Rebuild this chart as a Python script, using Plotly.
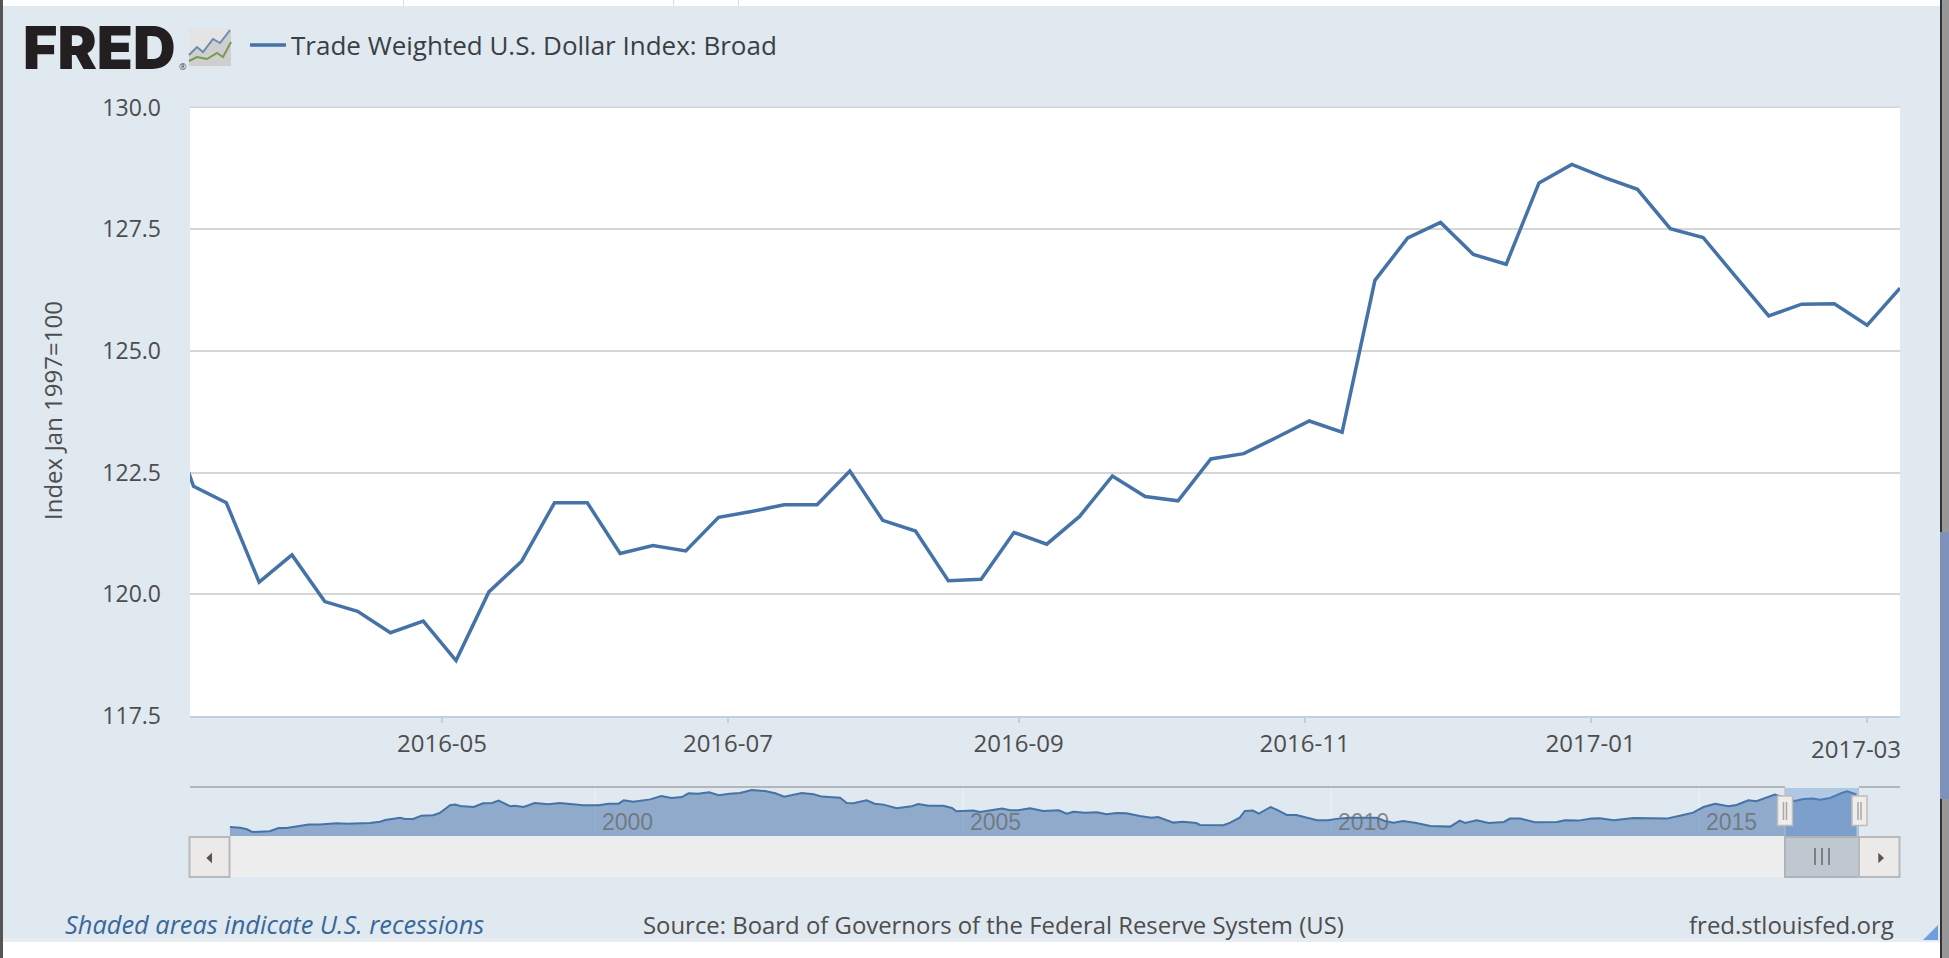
import pandas as pd
import plotly.graph_objects as go

W, H = 1949, 958

# Weekly index readings, one value per Wednesday from 2016-03-02
first_week = "2016-03-02"
index_values = [
    124.10, 122.22, 121.88, 120.25, 120.81, 119.85, 119.65, 119.21, 119.45, 118.64,
    120.05, 120.68, 121.88, 121.88, 120.84, 121.00, 120.89, 121.58, 121.70, 121.84,
    121.84, 122.53, 121.52, 121.30, 120.28, 120.31, 121.27, 121.03, 121.60, 122.43,
    122.01, 121.92, 122.78, 122.89, 123.22, 123.56, 123.33, 126.45, 127.32, 127.64,
    126.98, 126.78, 128.45, 128.83, 128.56, 128.32, 127.51, 127.33, 126.52, 125.72,
    125.96, 125.97, 125.53, 126.29,
]
x_tick_dates = ["2016-05-01", "2016-07-01", "2016-09-01", "2016-11-01", "2017-01-01", "2017-03-01"]
x_tick_labels = ["2016-05", "2016-07", "2016-09", "2016-11", "2017-01", "2017-03"]
y_ticks = [117.5, 120.0, 122.5, 125.0, 127.5, 130.0]

# Full history shown in the range navigator
history_years = [
    1995.04, 1995.18, 1995.27, 1995.34, 1995.58, 1995.70, 1995.81, 1995.95, 1996.11, 1996.26,
    1996.49, 1996.63, 1996.81, 1996.94, 1997.08, 1997.15, 1997.35, 1997.42, 1997.53, 1997.64,
    1997.80, 1997.89, 1998.03, 1998.10, 1998.17, 1998.35, 1998.48, 1998.60, 1998.69, 1998.75,
    1998.85, 1998.91, 1999.03, 1999.18, 1999.37, 1999.52, 1999.71, 1999.84, 2000.05, 2000.18,
    2000.32, 2000.39, 2000.52, 2000.75, 2000.90, 2001.04, 2001.18, 2001.27, 2001.40, 2001.55,
    2001.68, 2001.83, 2001.97, 2002.13, 2002.31, 2002.45, 2002.57, 2002.67, 2002.81, 2002.97,
    2003.08, 2003.33, 2003.42, 2003.51, 2003.69, 2003.80, 2003.92, 2004.10, 2004.30, 2004.39,
    2004.53, 2004.73, 2004.85, 2004.91, 2005.14, 2005.23, 2005.37, 2005.53, 2005.64, 2005.75,
    2005.91, 2006.09, 2006.30, 2006.41, 2006.50, 2006.66, 2006.82, 2006.95, 2007.09, 2007.22,
    2007.40, 2007.56, 2007.65, 2007.86, 2007.99, 2008.17, 2008.22, 2008.54, 2008.63, 2008.76,
    2008.83, 2008.94, 2009.02, 2009.18, 2009.26, 2009.40, 2009.53, 2009.81, 2009.96, 2010.10,
    2010.26, 2010.62, 2010.73, 2010.85, 2010.98, 2011.16, 2011.35, 2011.62, 2011.75, 2011.82,
    2011.98, 2012.14, 2012.35, 2012.43, 2012.57, 2012.77, 2013.07, 2013.18, 2013.36, 2013.54,
    2013.65, 2013.84, 2014.11, 2014.33, 2014.56, 2014.74, 2014.92, 2015.06, 2015.22, 2015.40,
    2015.51, 2015.67, 2015.78, 2016.03, 2016.17, 2016.30, 2016.42, 2016.55, 2016.64, 2016.78,
    2016.94, 2017.01, 2017.14,
]
history_values = [
    91.0, 90.3, 88.6, 85.8, 86.5, 90.0, 90.0, 91.7, 93.5, 93.5,
    94.9, 94.5, 95.2, 95.2, 96.6, 98.4, 100.8, 99.4, 99.4, 102.9,
    103.3, 105.7, 113.8, 114.5, 113.1, 112.0, 115.9, 116.2, 118.7, 116.6,
    112.7, 113.4, 112.0, 116.2, 114.8, 116.2, 114.5, 113.8, 113.8, 115.5,
    115.5, 119.0, 117.6, 120.0, 123.6, 121.5, 122.5, 126.4, 126.0, 127.4,
    124.3, 126.0, 126.7, 129.9, 128.8, 126.4, 122.9, 124.3, 126.7, 125.3,
    122.9, 121.8, 116.2, 115.9, 119.0, 115.5, 114.5, 110.6, 112.7, 115.2,
    113.4, 113.4, 111.0, 107.5, 108.2, 106.8, 108.5, 110.3, 108.5, 108.5,
    110.6, 107.8, 108.5, 105.0, 107.1, 106.0, 106.4, 104.3, 105.7, 105.4,
    102.6, 100.8, 101.5, 95.6, 96.6, 95.2, 93.1, 92.8, 95.6, 100.8,
    107.8, 108.2, 105.0, 112.0, 109.2, 103.6, 103.6, 98.0, 98.0, 99.8,
    100.8, 100.8, 97.3, 95.6, 97.3, 95.2, 92.1, 91.4, 97.7, 95.2,
    98.0, 95.2, 96.3, 99.8, 99.8, 95.9, 96.3, 98.0, 97.7, 99.8,
    100.1, 98.0, 100.5, 100.5, 99.8, 102.9, 106.1, 112.0, 115.5, 112.7,
    114.1, 119.0, 118.0, 125.0, 121.8, 118.3, 120.4, 120.8, 119.7, 121.5,
    126.7, 128.5, 125.3,
]
history_ticks = [2000, 2005, 2010, 2015]

series_name = "Trade Weighted U.S. Dollar Index: Broad"
y_title = "Index Jan 1997=100"
footer_left = "Shaded areas indicate U.S. recessions"
footer_mid = "Source: Board of Governors of the Federal Reserve System (US)"
footer_right = "fred.stlouisfed.org"

LINE = "#4572a7"
PANEL = "#e0e8f0"
TEXT = "#4d4d4d"
FONT = "Open Sans"


def fx(px):
    return px / W


def fy(py):
    return 1 - py / H


def box(x0, y0, x1, y1, fill, line=None, width=0, layer="below"):
    return dict(
        type="rect", xref="paper", yref="paper", x0=fx(x0), x1=fx(x1), y0=fy(y0), y1=fy(y1),
        fillcolor=fill, line=dict(color=line or fill, width=width), layer=layer,
    )


def path(points, color=None, fill=None, width=2, layer="above", close=False):
    d = "M " + " L ".join(f"{fx(a):.5f},{fy(b):.5f}" for a, b in points) + (" Z" if close else "")
    return dict(
        type="path", xref="paper", yref="paper", path=d, layer=layer,
        fillcolor=fill or "rgba(0,0,0,0)",
        line=dict(color=color or "rgba(0,0,0,0)", width=width if color else 0),
    )


def label(text, px, py, size=24, color=TEXT, anchor="center", **kw):
    font = dict(family=kw.pop("family", FONT), size=size, color=color)
    font.update(kw.pop("font", {}))
    return dict(
        text=text, xref="paper", yref="paper", x=fx(px), y=fy(py), xanchor=anchor, yanchor="middle",
        showarrow=False, font=font, borderpad=0, **kw,
    )


fig = go.Figure()
fig.add_trace(go.Scatter(
    x=pd.date_range(first_week, periods=len(index_values), freq="7D"),
    y=index_values, mode="lines", name=series_name,
    line=dict(color=LINE, width=3.5), xaxis="x", yaxis="y", hoverinfo="skip",
))
fig.add_trace(go.Scatter(
    x=history_years, y=history_values, mode="lines", showlegend=False,
    line=dict(color=LINE, width=2), fill="tozeroy", fillcolor="rgba(69,114,167,0.52)",
    xaxis="x2", yaxis="y2", hoverinfo="skip",
))

shapes = [
    # window chrome and panel
    box(0, 0, W, H, "#ffffff"),
    box(0, 6, 1940, 941, PANEL),
    box(0, 938, 1940, 942, "#e6ecf2"),
    box(403, 0, 404, 6, "#dddddd"),
    box(673, 0, 674, 6, "#dddddd"),
    box(738, 0, 739, 6, "#dddddd"),
    box(0, 0, 3, H, "#555555"),
    box(1942, 0, W, H, "#989898"),
    box(1940, 0, 1942, H, "#333333"),
    box(1940, 532, W, 799, "#7d91b9"),
    path([(1923, 940), (1938, 925), (1938, 940)], fill="#6f9fe0", layer="below", close=True),
    # plot area with its top rule
    box(190, 107.5, 1900, 716, "#ffffff"),
    box(190, 106.5, 1900, 108, "#d6d6d6"),
    # FRED icon
    box(189, 28, 231, 66, "#e4e4e4"),
    path([(189, 55), (197, 47), (203, 52), (213, 39), (220, 43), (231, 30), (231, 66), (189, 66)],
         fill="#cfcfcf", close=True),
    path([(189, 55), (197, 47), (203, 52), (213, 39), (220, 43), (230, 30)], color="#6a8cae"),
    path([(189, 61), (197, 57), (207, 59), (217, 53), (223, 57), (231, 42)], color="#7a9a50"),
    # navigator frame
    box(190, 786, 1785, 788, "#b2b5b9", layer="above"),
    box(1859, 786, 1900, 788, "#b2b5b9", layer="above"),
    # selected range mask
    box(1785, 788, 1858.5, 836, "rgba(90,140,210,0.35)", layer="above"),
    box(1784.5, 788, 1785.5, 836, "#b8bcc4", layer="above"),
    box(1858, 788, 1859, 836, "#b8bcc4", layer="above"),
    # scrollbar
    box(230, 836.5, 1785, 877, "#eeeded"),
    box(189.5, 837, 229.5, 877, "#ece9e9", "#b7b9bc", 2),
    box(1785, 837, 1859, 877, "#bfc7d0", "#b0b4b9", 2),
    box(1859, 837, 1899.5, 877, "#ece9e9", "#b7b9bc", 2),
    path([(212, 852.7), (206.3, 858), (212, 863.3)], fill="#555555", close=True),
    path([(1878.3, 852.7), (1884, 858), (1878.3, 863.3)], fill="#555555", close=True),
    # navigator handles
    box(1777.5, 796, 1792.5, 825.5, "#efecea", "#bdbdbd", 1.5, layer="above"),
    box(1852, 796, 1867, 825.5, "#efecea", "#bdbdbd", 1.5, layer="above"),
]
for hx in (1783.5, 1786.5, 1858, 1861):
    shapes.append(path([(hx, 802), (hx, 820)], color="#a8a8a8", width=1.5))
for gx in (1815, 1822, 1829):
    shapes.append(path([(gx, 848), (gx, 865)], color="#666666", width=1.5, layer="below"))

annotations = [
    label("FRED", 22, 47, size=59, color="#231f20", anchor="left", family="Inter", font=dict(weight=900)),
    label("®", 183, 66, size=9, color="#444444"),
    label(y_title, 52, 411, size=24, textangle=-90),
    label(x_tick_labels[-1], 1856, 748, size=24),
    label(footer_left, 64, 924, size=25.4, color="#38689a", anchor="left", family=FONT, font=dict(style="italic")),
    label(footer_mid, 642, 924, size=23.9, anchor="left"),
    label(footer_right, 1895, 924, size=24, anchor="right"),
]
for year in history_ticks:
    annotations.append(dict(
        text=str(year), xref="x2", yref="paper", x=year, y=fy(822), xanchor="left", yanchor="middle",
        xshift=5, showarrow=False, font=dict(family="Liberation Sans", size=23, color="rgba(105,105,105,0.75)"),
    ))

fig.update_layout(
    width=W, height=H, autosize=False, margin=dict(l=0, r=0, t=0, b=0, autoexpand=False),
    paper_bgcolor="#ffffff", plot_bgcolor="rgba(0,0,0,0)",
    font=dict(family=FONT, color=TEXT), hovermode=False,
    showlegend=True,
    legend=dict(
        x=fx(245), y=fy(45), xanchor="left", yanchor="middle", bgcolor="rgba(0,0,0,0)",
        itemwidth=36, font=dict(family=FONT, size=26, color="#3a3f44"),
    ),
    xaxis=dict(
        domain=[fx(190), fx(1900)], anchor="y",
        range=["2016-03-08 06:00", "2017-03-08 00:00"],
        tickmode="array", tickvals=x_tick_dates, ticktext=x_tick_labels[:-1] + [""],
        ticks="outside", ticklen=5, tickwidth=1.5, tickcolor="#c0d0e0",
        showline=True, linecolor="#c0d0e0", linewidth=2, showgrid=False, zeroline=False,
        tickfont=dict(family=FONT, size=24, color=TEXT),
    ),
    yaxis=dict(
        domain=[fy(716), fy(107.5)], anchor="x", range=[117.5, 130],
        tickmode="array", tickvals=y_ticks, ticktext=[f"{v:.1f}" for v in y_ticks],
        showgrid=True, gridcolor="#d6d6d6", gridwidth=1.5, zeroline=False, showline=False,
        ticks="", ticklabelstandoff=28,
        tickfont=dict(family=FONT, size=23, color=TEXT),
    ),
    xaxis2=dict(
        domain=[fx(190), fx(1900)], anchor="y2", range=[1994.497, 2017.731],
        tickmode="array", tickvals=history_ticks, showticklabels=False,
        showgrid=True, gridcolor="#e9eef4", gridwidth=1.5, zeroline=False, showline=False, ticks="",
    ),
    yaxis2=dict(
        domain=[fy(836), fy(787)], anchor="x2", range=[81.55, 133],
        showgrid=False, zeroline=False, showticklabels=False, ticks="", showline=False,
    ),
    shapes=shapes, annotations=annotations,
)

fig.write_html("out.html")
